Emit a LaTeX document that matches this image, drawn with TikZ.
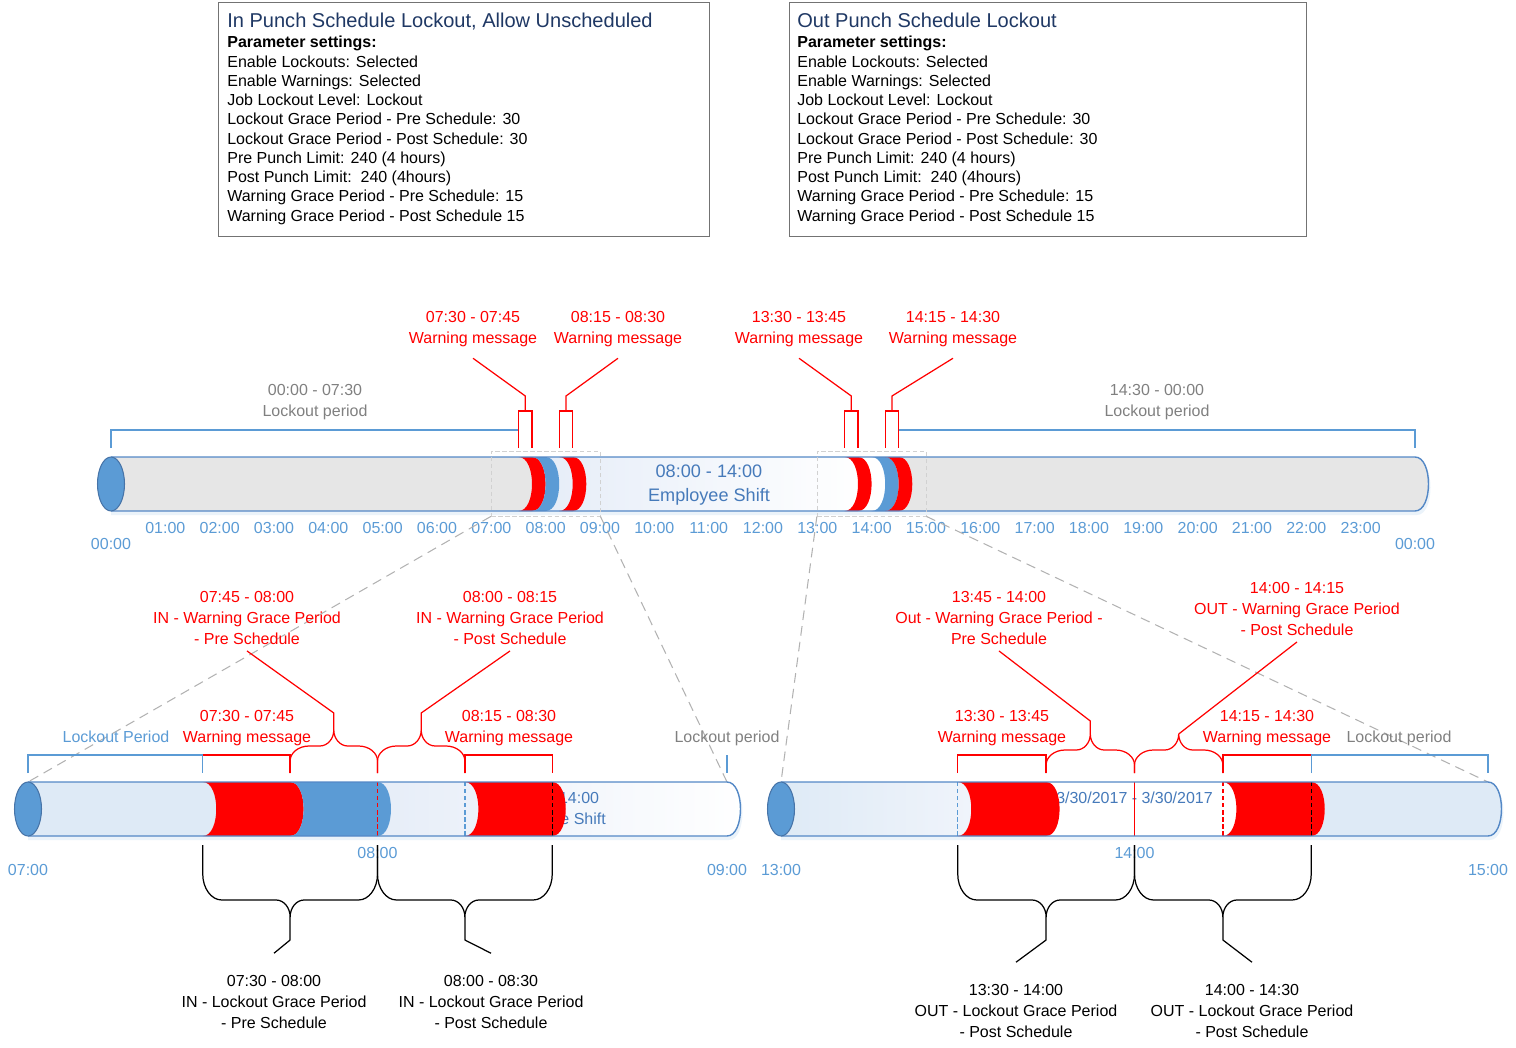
\documentclass[tikz,border=0pt]{standalone}
\usepackage{fontspec}
\setmainfont{Liberation Sans}
\usetikzlibrary{calc,positioning}
\definecolor{navy}{RGB}{31,56,100}
\definecolor{tickblue}{RGB}{91,155,213}
\definecolor{barblue}{RGB}{84,136,198}
\definecolor{shiftblue}{RGB}{70,122,186}
\definecolor{lockgray}{RGB}{230,230,230}
\definecolor{lockblue}{RGB}{222,234,246}
\definecolor{shiftpale}{RGB}{230,237,248}
\definecolor{txtgray}{RGB}{128,128,128}
\tikzset{
  lbl/.style={font=\fontsize{9.1}{12}\selectfont,align=center},
  warn/.style={lbl,text=red},
  lock/.style={lbl,text=txtgray},
  lockb/.style={lbl,text=tickblue},
  grace/.style={lbl,text=black},
  hour/.style={font=\fontsize{9.1}{11}\selectfont,text=tickblue,inner sep=1pt},
  shifttxt/.style={font=\fontsize{9.1}{12}\selectfont,text=shiftblue,align=center,inner sep=0pt},
  partitle/.style={font=\fontsize{11.4}{13.7}\selectfont,text=navy,inner sep=0pt},
  partext/.style={font=\fontsize{9.1}{10.96}\selectfont,align=left,inner sep=0pt},
  parbox/.style={draw=black!55,line width=0.5pt,inner sep=0pt},
  barout/.style={draw=barblue,line width=0.8pt},
  capfill/.style={fill=tickblue,draw=barblue!85!black,line width=0.6pt},
  redln/.style={draw=red,line width=0.7pt},
  blueln/.style={draw=tickblue,line width=0.7pt},
  blkln/.style={draw=black,line width=0.7pt},
  zoomln/.style={draw=black!30,line width=0.6pt,dash pattern=on 5.5pt off 3.5pt},
  zoombox/.style={draw=black!18,line width=0.5pt,dash pattern=on 2.5pt off 1.5pt,inner sep=0pt},
  cutdash/.style={line width=0.7pt,dash pattern=on 2.5pt off 1.5pt},
}
% bar pieces: body from cap centre, band between two bulges, outline with cap
\newcommand{\tlbody}[5]{\path[#1] (#2,#4) -- (#3,#4) .. controls ({#3+18},#4) and ({#3+18},#5) .. (#3,#5) -- (#2,#5) -- cycle;}
\newcommand{\tlband}[5]{\path[#1] (#2,#4) -- (#3,#4) .. controls ({#3+18},#4) and ({#3+18},#5) .. (#3,#5) -- (#2,#5) .. controls ({#2+18},#5) and ({#2+18},#4) .. (#2,#4) -- cycle;}
\newcommand{\tlrim}[4]{\draw[barout] (#1,#3) -- (#2,#3) .. controls ({#2+18},#3) and ({#2+18},#4) .. (#2,#4) -- (#1,#4);
  \draw[capfill] (#1,{(#3+#4)/2}) ellipse [x radius=0.27cm, y radius=0.54cm];}
% curly brace: style, xa, xb, arm end, flat, cusp, corner offset
\newcommand{\tlbrace}[7]{\draw[#1] (#2,#4) -- (#2,{#5+#7}) .. controls (#2,{#5+0.45*#7}) and ({#2+8.5},#5) .. ({#2+19},#5)
  -- ({(#2+#3)/2-14},#5) .. controls ({(#2+#3)/2-6.3},#5) and ({(#2+#3)/2},{#5+0.45*(#6-#5)}) .. ({(#2+#3)/2},#6)
  .. controls ({(#2+#3)/2},{#5+0.45*(#6-#5)}) and ({(#2+#3)/2+6.3},#5) .. ({(#2+#3)/2+14},#5)
  -- ({#3-19},#5) .. controls ({#3-8.5},#5) and (#3,{#5+0.45*#7}) .. (#3,{#5+#7}) -- (#3,#4);}
\newcommand{\tlparams}{\textbf{Parameter settings:}\\Enable Lockouts: Selected\\Enable Warnings: Selected\\Job Lockout Level: Lockout\\
  Lockout Grace Period - Pre Schedule: 30\\Lockout Grace Period - Post Schedule: 30\\Pre Punch Limit: 240 (4 hours)\\
  Post Punch Limit:\ \ 240 (4hours)\\Warning Grace Period - Pre Schedule: 15\\Warning Grace Period - Post Schedule 15}
\begin{document}
\begin{tikzpicture}[x=0.02cm,y=-0.02cm]
  \useasboundingbox (0,0) rectangle (1516,1048);
  % parameter boxes
  \node[parbox,minimum width=9.82cm,minimum height=4.68cm] (pb1) at (463.5,119) {};
  \node[partitle,anchor=base west] (pt1) at (227,27.2) {In Punch Schedule Lockout, Allow Unscheduled};
  \node[partext,anchor=north west] (pl1) at (227,36) {\tlparams};
  \node[parbox,minimum width=10.34cm,minimum height=4.68cm] (pb2) at (1047.5,119) {};
  \node[partitle,anchor=base west] (pt2) at (797,27.2) {Out Punch Schedule Lockout};
  \node[partext,anchor=north west] (pl2) at (797,36) {\tlparams};

  % day bar
  \tlbody{fill=tickblue!12}{111}{1417}{460}{515}
  \tlbody{fill=white}{111}{1415}{457}{511}
  \tlband{left color=shiftpale,right color=white}{545.7}{844.5}{457}{511}
  \tlbody{fill=lockgray}{111}{518.5}{457}{511}
  \tlband{fill=lockgray}{898.8}{1415}{457}{511}
  \node[shifttxt,font=\fontsize{10.3}{13.6}\selectfont] (shift) at (709,485) {08:00 - 14:00\\Employee Shift};
  \tlband{fill=red}{518.5}{532.1}{457}{511} \tlband{fill=tickblue}{532.1}{545.7}{457}{511} \tlband{fill=red}{559.2}{572.8}{457}{511}
  \tlband{fill=red}{844.5}{858.1}{457}{511} \tlband{fill=tickblue}{871.7}{885.2}{457}{511} \tlband{fill=red}{885.2}{898.8}{457}{511}
  \tlrim{111}{1415}{457}{511}
  \node[hour] (t0) at (111,544) {00:00}; \node[hour] (t24) at (1415,544) {00:00};
  \foreach \h in {1,...,23} \node[hour] (t\h) at ({111+54.333*\h},528) {\ifnum\h<10 0\fi\h:00};

  \node[lock] (lk0) at (315,402) {00:00 - 07:30\\Lockout period};
  \node[lock] (lk24) at (1157,402) {14:30 - 00:00\\Lockout period};
  \draw[blueln] (111,448) |- (518.5,430); \draw[blueln] (898.8,430) -| (1415,448);
  \node[warn] (w1) at (473,329) {07:30 - 07:45\\Warning message};
  \node[warn] (w2) at (618,329) {08:15 - 08:30\\Warning message};
  \node[warn] (w3) at (799,329) {13:30 - 13:45\\Warning message};
  \node[warn] (w4) at (953,329) {14:15 - 14:30\\Warning message};
  \draw[redln] (518.5,448) |- (532.1,411) -- (532.1,448); \draw[redln] (559.2,448) |- (572.8,411) -- (572.8,448);
  \draw[redln] (844.5,448) |- (858.1,411) -- (858.1,448); \draw[redln] (885.2,448) |- (898.8,411) -- (898.8,448);
  \coordinate (cw1) at (525.3,411); \coordinate (cw2) at (566,411); \coordinate (cw3) at (851.3,411); \coordinate (cw4) at (892,411);
  \foreach \i in {1,...,4} \draw[redln] (cw\i) -- ++(0,-15) -- ([yshift=-3pt]w\i.south);

  % zoom frames
  \node[zoombox,minimum width=2.174cm,minimum height=1.3cm] (zl) at (545.65,483.5) {};
  \node[zoombox,minimum width=2.174cm,minimum height=1.3cm] (zr) at (871.65,483.5) {};
  \coordinate (bl0) at (28,782); \coordinate (bl1) at (727,782); \coordinate (br0) at (781,782); \coordinate (br1) at (1488,782);
  \draw[zoomln] (zl.south west) -- (bl0); \draw[zoomln] (zl.south east) -- (bl1);
  \draw[zoomln] (zr.south west) -- (br0); \draw[zoomln] (zr.south east) -- (br1);

  % morning bar
  \tlbody{fill=tickblue!12}{28}{729}{785}{840}
  \tlbody{fill=white}{28}{727}{782}{836}
  \tlband{left color=shiftpale,right color=white}{377.5}{727}{782}{836}
  \tlbody{fill=lockblue}{28}{202.75}{782}{836}
  \node[shifttxt] (shiftL) at (552,810) {08:00 - 14:00\\Employee Shift};
  \tlband{fill=red}{202.75}{290.1}{782}{836} \tlband{fill=tickblue}{290.1}{377.5}{782}{836} \tlband{fill=red}{464.9}{552.25}{782}{836}
  \draw[cutdash,red] (377.5,782) -- (377.5,836); \draw[cutdash,tickblue] (464.9,782) -- (464.9,836); \draw[cutdash,black] (552.25,782) -- (552.25,836);
  \tlrim{28}{727}{782}{836}
  \node[hour] (b7) at (28,870) {07:00}; \node[hour] (b8) at (377.5,853) {08:00}; \node[hour] (b9) at (727,870) {09:00};

  \node[lockb] (lkL) at (116,737) {Lockout Period};
  \node[lock] (lkM) at (727,738) {Lockout period};
  \node[warn] (w5) at (247,728) {07:30 - 07:45\\Warning message};
  \node[warn] (w6) at (509,728) {08:15 - 08:30\\Warning message};
  \draw[blueln] (28,773) |- (202.75,755) -- (202.75,773); \draw[redln] (202.75,755) -| (290.1,773);
  \draw[redln] (464.9,773) |- (552.25,755) -- (552.25,773); \draw[blueln] (727,755) -- (727,773);
  \node[warn] (g1) at (247,618) {07:45 - 08:00\\IN - Warning Grace Period\\- Pre Schedule};
  \node[warn] (g2) at (510,618) {08:00 - 08:15\\IN - Warning Grace Period\\- Post Schedule};
  \tlbrace{redln}{290.1}{377.5}{773}{746}{730}{15}
  \tlbrace{redln}{377.5}{464.9}{773}{746}{730}{15}
  \coordinate (cr1) at (333.8,730); \coordinate (cr2) at (421.2,730);
  \draw[redln] (cr1) -- ++(0,-17) -- (g1.south); \draw[redln] (cr2) -- ++(0,-17) -- (g2.south);
  \tlbrace{blkln}{202.75}{377.5}{845}{900}{917}{-26}
  \tlbrace{blkln}{377.5}{552.25}{845}{900}{917}{-26}
  \node[grace] (lg1) at (274,1002) {07:30 - 08:00\\IN - Lockout Grace Period\\- Pre Schedule};
  \node[grace] (lg2) at (491,1002) {08:00 - 08:30\\IN - Lockout Grace Period\\- Post Schedule};
  \coordinate (cb1) at (290.1,917); \coordinate (cb2) at (464.9,917);
  \draw[blkln] (cb1) -- ++(0,23) -- ([yshift=9pt]lg1.north); \draw[blkln] (cb2) -- ++(0,23) -- ([yshift=9pt]lg2.north);

  % afternoon bar
  \tlbody{fill=tickblue!12}{781}{1490}{785}{840}
  \tlbody{fill=white}{781}{1488}{782}{836}
  \tlbody{left color=lockblue,right color=shiftpale!60!white}{781}{957.75}{782}{836}
  \tlband{fill=lockblue}{1311.25}{1488}{782}{836}
  \node[shifttxt] (date) at (1134.5,798) {3/30/2017 - 3/30/2017};
  \tlband{fill=red}{957.75}{1046.1}{782}{836} \tlband{fill=red}{1222.9}{1311.25}{782}{836}
  \draw[cutdash,tickblue] (957.75,782) -- (957.75,836); \draw[redln] (1134.5,782) -- (1134.5,836);
  \draw[cutdash,red] (1222.9,782) -- (1222.9,836); \draw[cutdash,black] (1311.25,782) -- (1311.25,836);
  \tlrim{781}{1488}{782}{836}
  \node[hour] (b13) at (781,870) {13:00}; \node[hour] (b14) at (1134.5,853) {14:00}; \node[hour] (b15) at (1488,870) {15:00};

  \node[lock] (lkN) at (1399,738) {Lockout period};
  \node[warn] (w7) at (1002,728) {13:30 - 13:45\\Warning message};
  \node[warn] (w8) at (1267,728) {14:15 - 14:30\\Warning message};
  \draw[redln] (957.75,773) |- (1046.1,755) -- (1046.1,773); \draw[redln] (1222.9,773) |- (1311.25,755);
  \draw[blueln] (1311.25,773) |- (1488,755) -- (1488,773);
  \node[warn] (g3) at (999,618) {13:45 - 14:00\\Out - Warning Grace Period -\\Pre Schedule};
  \node[warn] (g4) at (1297,609) {14:00 - 14:15\\OUT - Warning Grace Period\\- Post Schedule};
  \tlbrace{redln}{1046.1}{1134.5}{773}{750}{734}{15}
  \tlbrace{redln}{1134.5}{1222.9}{773}{750}{734}{15}
  \coordinate (cr3) at (1090.3,734); \coordinate (cr4) at (1178.7,734);
  \draw[redln] (cr3) -- ++(0,-13) -- (g3.south); \draw[redln] (cr4) -- (g4.south);
  \tlbrace{blkln}{957.75}{1134.5}{845}{900}{917}{-26}
  \tlbrace{blkln}{1134.5}{1311.25}{845}{900}{917}{-26}
  \node[grace] (lg3) at (1016,1011) {13:30 - 14:00\\OUT - Lockout Grace Period\\- Post Schedule};
  \node[grace] (lg4) at (1252,1011) {14:00 - 14:30\\OUT - Lockout Grace Period\\- Post Schedule};
  \coordinate (cb3) at (1046.1,917); \coordinate (cb4) at (1222.9,917);
  \draw[blkln] (cb3) -- ++(0,23) -- ([yshift=9pt]lg3.north); \draw[blkln] (cb4) -- ++(0,23) -- ([yshift=9pt]lg4.north);
\end{tikzpicture}
\end{document}
